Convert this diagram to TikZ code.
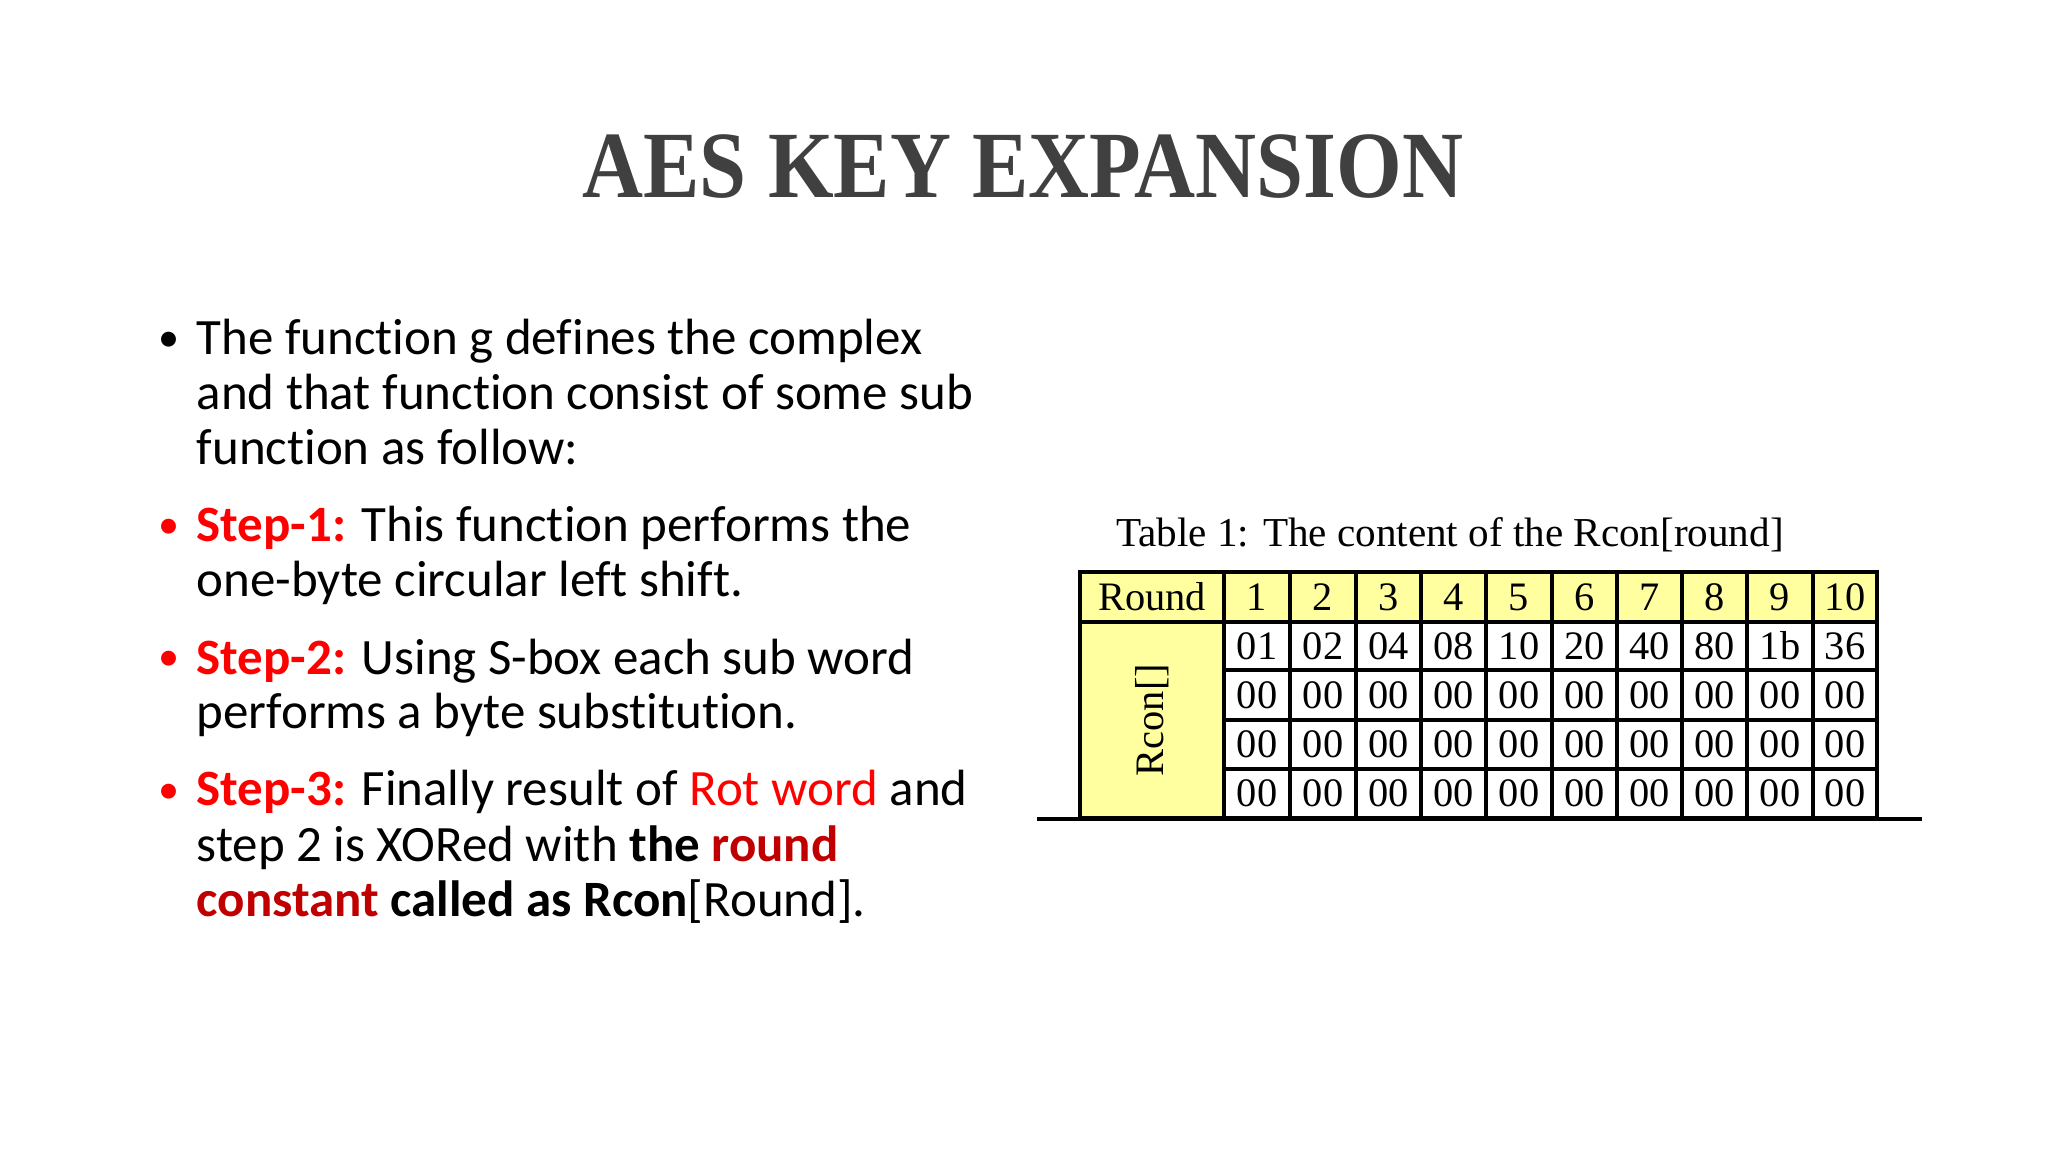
\documentclass[tikz,border=0pt]{standalone}
\usepackage{fontspec}
\setmainfont{Carlito}[Ligatures={NoCommon}]
\newfontfamily\serifb{Liberation Serif}
\definecolor{stepred}{RGB}{255,0,0}
\definecolor{darkred}{RGB}{192,0,0}
\definecolor{titlegray}{RGB}{64,64,64}
\definecolor{cellyellow}{RGB}{255,255,160}
\begin{document}
\begin{tikzpicture}[x=1cm,y=1cm,
  line/.style={anchor=base west,inner sep=0pt,font=\fontsize{14.5}{16}\selectfont},
  bul/.style={anchor=base west,inner sep=0pt,font=\fontsize{12}{14}\selectfont},
  cell/.style={font=\serifb\fontsize{11.5}{13}\selectfont,inner sep=0pt},
  grid/.style={line width=1.3pt}]
\useasboundingbox (0,0) rectangle (20.48,-11.52);
\node[font=\serifb\bfseries\fontsize{27}{32}\selectfont,text=titlegray,xscale=0.89] (title) at (10.23,-1.67) {AES KEY EXPANSION};
% bullets
\node[bul] (b1) at (1.58,-3.52) {•};
\node[line] (l1) at (1.96,-3.55) {The function g defines the complex};
\node[line] (l2) at (1.96,-4.10) {and that function consist of some sub};
\node[line] (l3) at (1.96,-4.65) {function as follow:};
\node[bul,text=stepred] (b2) at (1.58,-5.39) {•};
\node[line] (l4) at (1.96,-5.42) {\textcolor{stepred}{\bfseries Step-1:} This function performs the};
\node[line] (l5) at (1.96,-5.97) {one-byte circular left shift.};
\node[bul,text=stepred] (b3) at (1.58,-6.71) {•};
\node[line] (l6) at (1.96,-6.74) {\textcolor{stepred}{\bfseries Step-2:} Using S-box each sub word};
\node[line] (l7) at (1.96,-7.29) {performs a byte substitution.};
\node[bul,text=stepred] (b4) at (1.58,-8.03) {•};
\node[line] (l8) at (1.96,-8.06) {\textcolor{stepred}{\bfseries Step-3:} Finally result of \textcolor{stepred}{Rot word} and};
\node[line] (l9) at (1.96,-8.61) {step 2 is XORed with \textbf{the \textcolor{darkred}{round}}};
\node[line] (l10) at (1.96,-9.16) {\textbf{\textcolor{darkred}{constant} called as Rcon}[Round].};
% table
\node[anchor=base,inner sep=0pt,font=\serifb\fontsize{11.7}{14}\selectfont] (cap) at (14.50,-5.46) {Table 1: The content of the Rcon[round]};
\fill[cellyellow] (10.80,-5.72) rectangle (18.77,-6.22);
\fill[cellyellow] (10.80,-6.22) rectangle (12.24,-8.18);
\draw[grid] (10.80,-5.72) rectangle (18.77,-8.18);
\foreach \x in {12.24,12.90,13.56,14.21,14.86,15.52,16.17,16.82,17.47,18.13}
  \draw[grid] (\x,-5.72) -- (\x,-8.18);
\draw[grid] (10.80,-6.22) -- (18.77,-6.22);
\foreach \y in {-6.70,-7.20,-7.69}
  \draw[grid] (12.24,\y) -- (18.77,\y);
\draw[line width=1pt] (10.37,-8.19) -- (19.22,-8.19);
\node[cell] (rh) at (11.52,-5.97) {Round};
\node[cell,rotate=90] (rc) at (11.52,-7.20) {Rcon[]};
\foreach \c [count=\i] in {12.57,13.23,13.885,14.535,15.19,15.845,16.495,17.145,17.80,18.45}{
  \node[cell] at (\c,-5.97) {\i};
}
\foreach \c/\v in {12.57/01,13.23/02,13.885/04,14.535/08,15.19/10,15.845/20,16.495/40,17.145/80,17.80/1b,18.45/36}{
  \node[cell] at (\c,-6.46) {\v};
  \node[cell] at (\c,-6.95) {00};
  \node[cell] at (\c,-7.445) {00};
  \node[cell] at (\c,-7.935) {00};
}
\end{tikzpicture}
\end{document}
